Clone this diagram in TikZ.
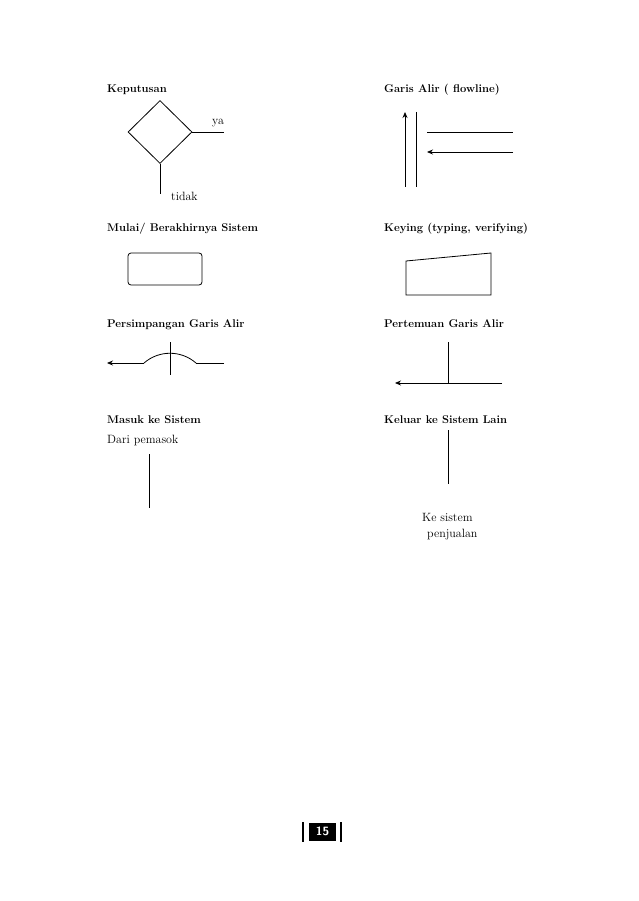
\documentclass[tikz,border=0pt]{standalone}
\usepackage{tikz}
\usetikzlibrary{shapes.geometric}
\usetikzlibrary{arrows.meta}

\tikzset{
  judul/.style={anchor=base west, inner sep=0pt, font=\fontsize{11.2}{14}\selectfont\bfseries},
  teks/.style={anchor=base west, inner sep=0pt, font=\fontsize{12}{14}\selectfont},
  garis/.style={line width=0.8pt},
  panah/.style={garis, -{Stealth[length=6pt,width=5pt]}},
}

\begin{document}
\begin{tikzpicture}[x=1pt,y=-1pt]
  \useasboundingbox (0,0) rectangle (638,901);

  % Keputusan
  \node[judul] (kep) at (107,93) {Keputusan};
  \node[diamond, draw, garis, inner sep=0pt, minimum width=64pt, minimum height=63pt] (dec) at (160,132) {};
  \coordinate (yaend) at (224,132);
  \coordinate (tidakend) at (160,194);
  \node[teks] (ya) at (212,125) {ya};
  \node[teks] (tidak) at (171,201) {tidak};
  \draw[garis] (dec.east) -- (yaend);
  \draw[garis] (dec.south) -- (tidakend);

  % Garis Alir
  \node[judul] (alir) at (384,93) {Garis Alir ( flowline)};
  \coordinate (a1) at (405,187);
  \coordinate (a2) at (405,112);
  \coordinate (b1) at (416,112);
  \coordinate (b2) at (416,187);
  \coordinate (c1) at (427,132);
  \coordinate (c2) at (513,132);
  \coordinate (d1) at (513,152);
  \coordinate (d2) at (427,152);
  \draw[panah] (a1) -- (a2);
  \draw[garis] (b1) -- (b2);
  \draw[garis] (c1) -- (c2);
  \draw[panah] (d1) -- (d2);

  % Mulai / Berakhirnya
  \node[judul] (mulai) at (107,232) {Mulai/ Berakhirnya Sistem};
  \node[draw, garis, rounded corners=3pt, minimum width=74pt, minimum height=32pt] (term) at (165,269) {};

  % Keying
  \node[judul] (key) at (384,232) {Keying (typing, verifying)};
  \coordinate (k1) at (406,261);
  \coordinate (k2) at (491,253);
  \coordinate (k3) at (491,295);
  \coordinate (k4) at (406,295);
  \draw[garis] (k1) -- (k2) -- (k3) -- (k4) -- cycle;

  % Persimpangan Garis Alir
  \node[judul] (simpang) at (107,327) {Persimpangan Garis Alir};
  \coordinate (s1) at (224,363);
  \coordinate (s2) at (196,363);
  \coordinate (s3) at (144,363);
  \coordinate (s4) at (107,363);
  \coordinate (v1) at (170,342);
  \coordinate (v2) at (170,375);
  \draw[garis] (s1) -- (s2);
  \draw[garis] (s2) .. controls (181,350) and (159,350) .. (s3);
  \draw[panah] (s3) -- (s4);
  \draw[garis] (v1) -- (v2);

  % Pertemuan Garis Alir
  \node[judul] (temu) at (384,327) {Pertemuan Garis Alir};
  \coordinate (p1) at (448,342);
  \coordinate (p2) at (448,383);
  \coordinate (p3) at (502,383);
  \coordinate (p4) at (395,383);
  \draw[garis] (p1) -- (p2);
  \draw[panah] (p3) -- (p4);

  % Masuk ke Sistem
  \node[judul] (masuk) at (107,423) {Masuk ke Sistem};
  \node[teks] (dari) at (107,443) {Dari pemasok};
  \coordinate (m1) at (149,454);
  \coordinate (m2) at (149,508);
  \draw[garis] (m1) -- (m2);

  % Keluar ke Sistem Lain
  \node[judul] (keluar) at (384,423) {Keluar ke Sistem Lain};
  \coordinate (o1) at (448,430);
  \coordinate (o2) at (448,484);
  \draw[garis] (o1) -- (o2);
  \node[teks] (ke) at (422,521) {Ke sistem};
  \node[teks] (jual) at (427,537) {penjualan};

  % nomor halaman
  \node[fill=black, text=white, inner sep=0pt, minimum width=27pt, minimum height=18pt,
        font=\fontsize{12}{14}\selectfont\sffamily\bfseries] (hal) at (322.5,831.5) {15};
  \coordinate (h1) at (303,822);
  \coordinate (h2) at (303,842);
  \coordinate (h3) at (341,822);
  \coordinate (h4) at (341,842);
  \draw[line width=1.5pt] (h1) -- (h2);
  \draw[line width=1.5pt] (h3) -- (h4);
\end{tikzpicture}
\end{document}
